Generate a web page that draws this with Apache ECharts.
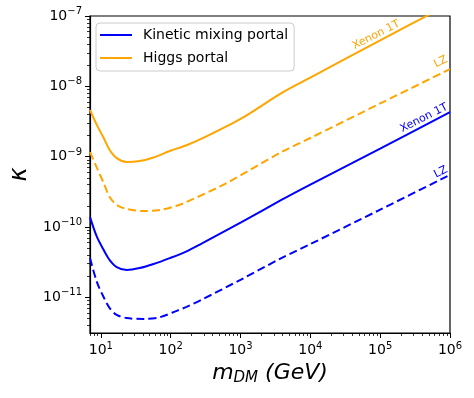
<!DOCTYPE html>
<html>
<head>
<meta charset="utf-8">
<script src="https://cdn.jsdelivr.net/npm/echarts@6/dist/echarts.min.js"></script>
<style>
  html, body { margin: 0; padding: 0; background: #fff; }
  #chart { width: 474px; height: 398px; }
</style>
</head>
<body>
<div id="chart"></div>
<script>
// curves: dark matter mass (GeV) and kappa
const higgsXenonMass = [7, 8.8, 11, 13.4, 16.9, 23.5, 36, 57, 97, 169, 277, 1033, 3850, 1e4, 1e5, 1e6];
const higgsXenonKappa = [4.6e-9, 2.8e-9, 1.84e-9, 1.24e-9, 9.5e-10, 8.4e-10, 8.65e-10, 9.7e-10, 1.2e-9, 1.45e-9, 1.8e-9, 3.5e-9, 8.0e-9, 1.33e-8, 4.5e-8, 1.5e-7];

const higgsLzMass = [7, 8.8, 11, 13.4, 16.9, 23.5, 41, 70, 122, 169, 631, 3850, 1e4, 1e5, 1e6];
const higgsLzKappa = [1.16e-9, 6.9e-10, 4.2e-10, 2.66e-10, 2.05e-10, 1.8e-10, 1.68e-10, 1.74e-10, 2.0e-10, 2.26e-10, 4.2e-10, 1.16e-9, 1.84e-9, 5.7e-9, 1.76e-8];

const kineticXenonMass = [7, 8.8, 11, 13.4, 16.9, 23.5, 36, 57, 97, 169, 277, 1033, 3850, 1e4, 1e5, 1e6];
const kineticXenonKappa = [1.38e-10, 7.2e-11, 4.7e-11, 3.38e-11, 2.69e-11, 2.44e-11, 2.6e-11, 2.97e-11, 3.6e-11, 4.5e-11, 5.8e-11, 1.17e-10, 2.42e-10, 4.0e-10, 1.3e-9, 4.3e-9];

const kineticLzMass = [7, 8.8, 11, 13.4, 16.9, 23.5, 41, 70, 122, 169, 277, 1033, 3850, 1e4, 1e5, 1e6];
const kineticLzKappa = [3.6e-11, 1.64e-11, 1.0e-11, 7.0e-12, 5.6e-12, 5.06e-12, 4.9e-12, 5.2e-12, 6.4e-12, 7.3e-12, 9.2e-12, 1.8e-11, 3.6e-11, 5.7e-11, 1.76e-10, 5.5e-10];

// experiment tags written along the curves
const tagText = ['Xenon 1T', 'LZ', 'Xenon 1T', 'LZ'];
const tagMass = [8.77e4, 7.4e5, 4.25e5, 7.4e5];
const tagKappa = [5.37e-8, 2.22e-8, 3.54e-9, 6.04e-10];

const xMajor = [1e1, 1e2, 1e3, 1e4, 1e5, 1e6];
const yMajor = [1e-11, 1e-10, 1e-9, 1e-8, 1e-7];

const BLUE = '#0000ff';
const ORANGE = '#ffa500';
const FONT = 'DejaVu Sans';

let minorTicks = function (lo, hi, from, to) {
  let out = [];
  for (let e = from; e <= to; e++) {
    for (let k = 2; k <= 9; k++) {
      let v = k * Math.pow(10, e);
      if (v >= lo && v <= hi) out.push(v);
    }
  }
  return out;
};
const xMin = 7, xMax = 1e6, yMin = 3.1e-12, yMax = 1e-7;
const xMinor = minorTicks(xMin, xMax, 0, 5);
const yMinor = minorTicks(yMin, yMax, -12, -8);

let zip = function (a, b) {
  return a.map(function (v, i) { return [v, b[i]]; });
};
let pow10 = function (v) {
  let e = Math.round(Math.log10(v));
  return '10{sup|' + (e < 0 ? '\u2212' + (-e) : e) + '}';
};
let supRich = {
  sup: { fontSize: 10, fontFamily: FONT, color: '#000', padding: [0, 0, 9, 0] }
};

let lineSeries = function (name, color, dashed, data, tags) {
  return {
    name: name,
    type: 'line',
    data: data,
    smooth: 0.3,
    symbol: 'none',
    clip: true,
    lineStyle: { color: color, width: 2, type: dashed ? [8, 4] : 'solid' },
    itemStyle: { color: color },
    emphasis: { disabled: true },
    markPoint: {
      symbol: 'circle',
      symbolSize: 0,
      silent: true,
      data: tags.map(function (i) {
        return {
          coord: [tagMass[i], tagKappa[i]],
          label: {
            show: true,
            position: 'inside',
            formatter: tagText[i],
            rotate: 27,
            color: color,
            fontSize: 11,
            fontFamily: FONT
          }
        };
      })
    }
  };
};

let chart = echarts.init(document.getElementById('chart'), null, { renderer: 'canvas' });
let option = {
  animation: false,
  backgroundColor: '#fff',
  grid: {
    left: 88, right: 24, top: 16, bottom: 65,
    show: true, borderColor: '#000', borderWidth: 1.2, backgroundColor: 'transparent'
  },
  legend: {
    data: ['Kinetic mixing portal', 'Higgs portal'],
    orient: 'vertical',
    left: 96,
    top: 23,
    icon: 'rect',
    itemWidth: 32,
    itemHeight: 2,
    itemGap: 9,
    padding: [5, 6, 6, 4],
    borderColor: '#cccccc',
    borderWidth: 1,
    borderRadius: 4,
    backgroundColor: 'rgba(255,255,255,0.8)',
    textStyle: { color: '#000', fontSize: 14, fontFamily: FONT, padding: [0, 0, 0, 6] }
  },
  xAxis: [{
    type: 'log',
    min: xMin,
    max: xMax,
    name: 'm{sub|DM} (GeV)',
    nameLocation: 'middle',
    nameGap: 28,
    nameTextStyle: {
      color: '#000', fontSize: 22, fontStyle: 'italic', fontFamily: FONT,
      rich: { sub: { fontSize: 15, fontStyle: 'italic', fontFamily: FONT, color: '#000', padding: [10, 0, 0, 0] } }
    },
    axisLine: { show: true, lineStyle: { color: '#000', width: 1.2 } },
    axisTick: { show: true, customValues: xMajor, length: 5, lineStyle: { color: '#000', width: 1 } },
    axisLabel: {
      customValues: xMajor, margin: 8, formatter: pow10,
      color: '#000', fontSize: 14, fontFamily: FONT, rich: supRich
    },
    splitLine: { show: false }
  }, {
    type: 'log',
    min: xMin,
    max: xMax,
    position: 'bottom',
    axisLine: { show: false },
    axisTick: { show: true, customValues: xMinor, length: 3, lineStyle: { color: '#000', width: 0.8 } },
    axisLabel: { show: false },
    splitLine: { show: false }
  }],
  yAxis: [{
    type: 'log',
    min: yMin,
    max: yMax,
    name: '\u03ba',
    nameLocation: 'middle',
    nameGap: 58,
    nameRotate: 90,
    nameTextStyle: { color: '#000', fontSize: 24, fontStyle: 'italic', fontFamily: FONT },
    axisLine: { show: true, lineStyle: { color: '#000', width: 1.2 } },
    axisTick: { show: true, customValues: yMajor, length: 5, lineStyle: { color: '#000', width: 1 } },
    axisLabel: {
      customValues: yMajor, margin: 8, formatter: pow10,
      color: '#000', fontSize: 14, fontFamily: FONT, rich: supRich
    },
    splitLine: { show: false }
  }, {
    type: 'log',
    min: yMin,
    max: yMax,
    position: 'left',
    axisLine: { show: false },
    axisTick: { show: true, customValues: yMinor, length: 3, lineStyle: { color: '#000', width: 0.8 } },
    axisLabel: { show: false },
    splitLine: { show: false }
  }],
  series: [
    lineSeries('Kinetic mixing portal', BLUE, false, zip(kineticXenonMass, kineticXenonKappa), [2]),
    lineSeries('Higgs portal', ORANGE, false, zip(higgsXenonMass, higgsXenonKappa), [0]),
    lineSeries('Kinetic mixing portal LZ', BLUE, true, zip(kineticLzMass, kineticLzKappa), [3]),
    lineSeries('Higgs portal LZ', ORANGE, true, zip(higgsLzMass, higgsLzKappa), [1])
  ]
};
chart.setOption(option);
</script>
</body>
</html>
